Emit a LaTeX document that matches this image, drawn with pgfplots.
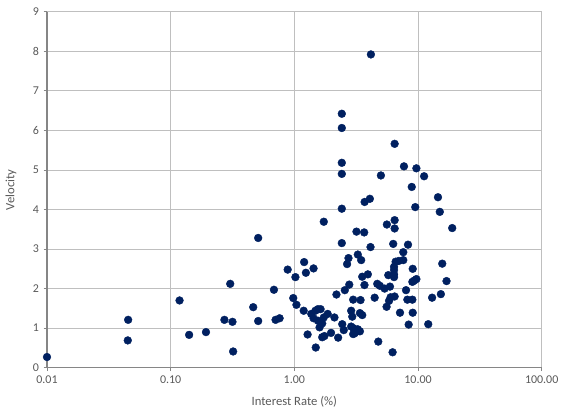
\documentclass[border=0pt]{standalone}
\usepackage{fontspec}
\setmainfont{Carlito}
\usepackage{pgfplots}
\pgfplotsset{compat=1.18}
\definecolor{navy}{HTML}{002060}
\definecolor{txt}{HTML}{595959}
\definecolor{grid}{HTML}{D9D9D9}
\definecolor{axl}{HTML}{868686}
\begin{document}
\begin{tikzpicture}
\begin{axis}[
  scale only axis,
  width=494.7bp, height=356bp,
  xmode=log, log basis x=10,
  xmin=0.01, xmax=100, ymin=0, ymax=9,
  xtick={0.01,0.1,1,10,100},
  xticklabels={0.01,0.10,1.00,10.00,100.00},
  ytick={0,1,...,9},
  minor xtick={}, minor x tick num=0,
  grid=major,
  major grid style={grid, line width=0.7pt},
  axis x line*=bottom, axis y line*=left,
  axis line style={axl, line width=1.3pt, -},
  tick style={axl, line width=0.8pt},
  major tick length=3.5bp,
  tick align=outside,
  ticklabel style={font=\fontsize{12}{14}\selectfont, text=txt},
  xticklabel style={yshift=-1.5bp},
  yticklabel style={xshift=-1bp},
  /pgf/number format/assume math mode=true,
  xlabel={Interest Rate (\%)}, ylabel={Velocity},
  label style={font=\fontsize{12.7}{15}\selectfont, text=txt},
  xlabel style={at={(rel axis cs:0.5,0)}, anchor=center, yshift=-34.3bp},
  ylabel style={at={(rel axis cs:0,0.5)}, anchor=center, yshift=36bp},
  clip=false,
]
\coordinate (sw) at (rel axis cs:0,0);
\coordinate (ne) at (rel axis cs:1,1);
\addplot[only marks, mark=*, mark size=3.9bp, draw=navy, fill=navy, line width=0.4pt] table {
x y
0.01 0.27
0.0453 1.21
0.045 0.69
0.118 1.70
0.141 0.83
0.193 0.90
0.272 1.21
0.303 2.12
0.316 1.16
0.32 0.41
0.465 1.53
0.51 3.28
0.51 1.18
0.684 1.97
0.705 1.21
0.76 1.25
0.883 2.48
0.98 1.76
1.02 2.29
1.04 1.59
4.16 7.92
2.42 6.42
2.42 6.06
6.47 5.66
2.42 5.18
2.42 4.90
5.01 4.86
7.7 5.09
9.7 5.04
11.2 4.84
8.9 4.57
14.5 4.31
4.08 4.27
3.7 4.19
2.42 4.02
9.5 4.06
15.0 3.94
1.73 3.69
6.47 3.73
5.6 3.62
6.47 3.52
18.9 3.53
3.18 3.44
3.67 3.42
2.42 3.15
6.3 3.13
8.3 3.11
4.13 3.05
7.6 2.92
3.26 2.86
3.47 2.72
2.74 2.77
2.67 2.62
6.59 2.68
7.0 2.70
7.6 2.72
6.4 2.55
6.4 2.47
6.4 2.36
6.4 2.29
15.7 2.63
1.2 2.67
1.43 2.51
1.24 2.40
9.06 2.50
5.75 2.34
3.54 2.30
3.93 2.36
3.69 2.09
9.0 2.17
9.7 2.24
9.3 2.20
17.0 2.19
2.78 2.10
4.68 2.12
4.92 2.07
5.37 2.00
5.93 2.05
2.56 1.96
8.0 1.96
2.19 1.85
2.99 1.72
3.43 1.71
4.46 1.77
6.0 1.78
6.47 1.80
5.83 1.69
5.57 1.54
8.2 1.72
9.0 1.72
13.0 1.77
15.3 1.86
1.19 1.44
7.15 1.39
9.06 1.39
2.88 1.44
3.39 1.38
3.54 1.33
2.94 1.29
4.77 0.66
6.23 0.39
8.4 1.09
12.1 1.10
1.37 1.36
1.48 1.44
1.63 1.48
1.55 1.48
1.43 1.25
1.55 1.19
1.68 1.12
1.60 1.02
1.73 1.27
1.86 1.36
2.11 1.27
1.98 0.88
1.68 0.77
1.75 0.80
2.26 0.76
1.28 0.84
1.49 0.51
2.44 1.10
2.51 0.95
2.88 1.04
3.07 0.87
3.26 0.97
3.39 0.92
2.99 0.85
3.18 0.91
3.0 1.0
};
\end{axis}
\pgfresetboundingbox
\path ([shift={(-47bp,-43.3bp)}]sw) rectangle ([shift={(25.3bp,11.7bp)}]ne);
\end{tikzpicture}
\end{document}
